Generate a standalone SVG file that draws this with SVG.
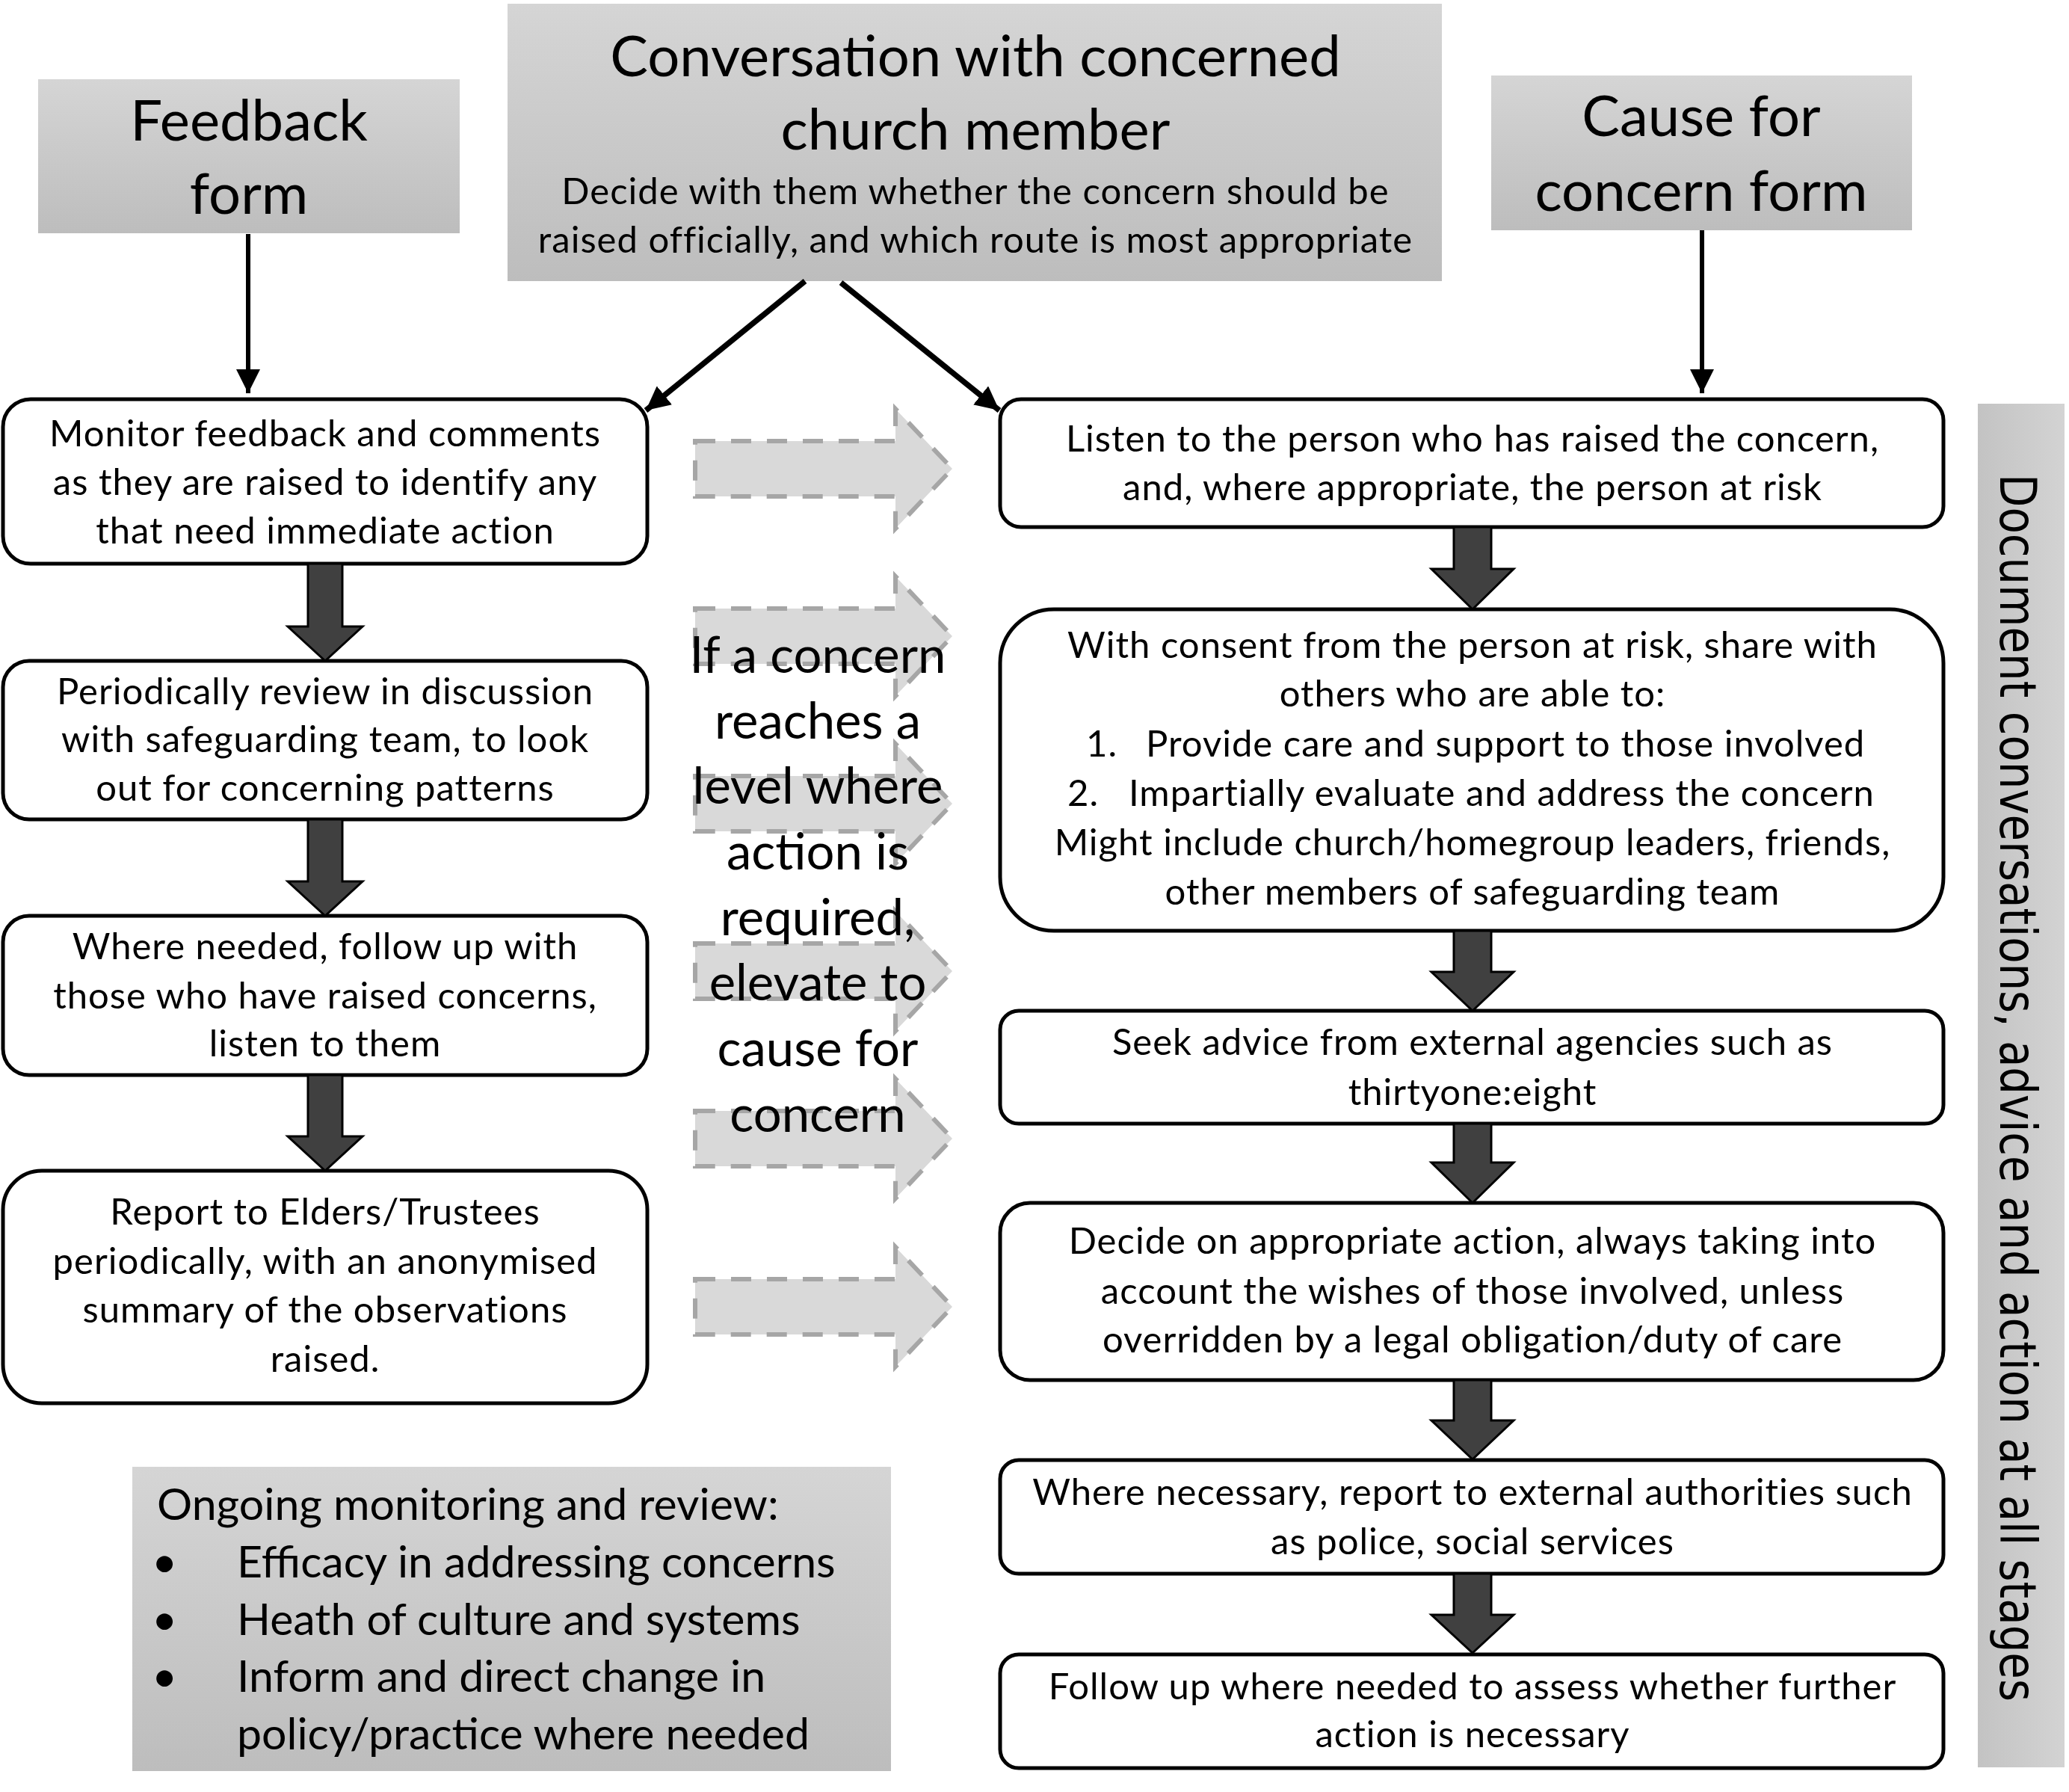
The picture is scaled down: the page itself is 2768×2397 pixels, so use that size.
<svg xmlns="http://www.w3.org/2000/svg" width="2768" height="2397" viewBox="0 0 2768 2397">
<style>
.t{font-family:Lato,"Liberation Sans",sans-serif;fill:#000;}
.title{font-size:76px;text-anchor:middle;}
.body{font-size:49px;letter-spacing:1px;text-anchor:middle;}
.mid{font-size:67px;text-anchor:middle;}
.ong{font-size:59px;}
.box{fill:#fff;stroke:#000;stroke-width:5;}
.gray{fill:url(#gv);}
.dash{fill:#d9d9d9;stroke:#a6a6a6;stroke-width:6;stroke-dasharray:27 21;}
.blk{fill:#404040;stroke:#000;stroke-width:3;}
.ln{stroke:#000;fill:none;}
</style>
<defs>
<linearGradient id="gv" x1="0" y1="0" x2="0" y2="1"><stop offset="0" stop-color="#d5d5d5"/><stop offset="1" stop-color="#bdbdbd"/></linearGradient>
<linearGradient id="gh" x1="0" y1="0" x2="1" y2="0"><stop offset="0" stop-color="#c3c3c3"/><stop offset="1" stop-color="#d3d3d3"/></linearGradient>
<marker id="ah" viewBox="0 0 10 10" refX="10" refY="5" markerUnits="userSpaceOnUse" markerWidth="32" markerHeight="32" orient="auto"><path d="M0,0 L10,5 L0,10 Z" fill="#000"/></marker>
</defs>

<g id="feedback-form">
<rect class="gray" x="51" y="106" width="564" height="206"/>
<text class="t title"><tspan x="333" y="188">Feedback</tspan><tspan x="333" y="286">form</tspan></text>
</g>
<g id="conversation">
<rect class="gray" x="679" y="5" width="1250" height="371"/>
<text class="t title"><tspan x="1305" y="102">Conversation with concerned</tspan><tspan x="1305" y="200">church member</tspan></text>
<text class="t body"><tspan x="1305" y="273">Decide with them whether the concern should be</tspan><tspan x="1305" y="338">raised officially, and which route is most appropriate</tspan></text>
</g>
<g id="cause-form">
<rect class="gray" x="1995" y="101" width="563" height="207"/>
<text class="t title"><tspan x="2276" y="182">Cause for</tspan><tspan x="2276" y="282">concern form</tspan></text>
</g>

<g id="monitor">
<rect class="box" x="4" y="534" width="862" height="220" rx="37"/>
<text class="t body"><tspan x="435" y="597">Monitor feedback and comments</tspan><tspan x="435" y="662">as they are raised to identify any</tspan><tspan x="435" y="727">that need immediate action</tspan></text>
</g>
<g id="review">
<rect class="box" x="4" y="884" width="862" height="212" rx="35"/>
<text class="t body"><tspan x="435" y="942">Periodically review in discussion</tspan><tspan x="435" y="1006">with safeguarding team, to look</tspan><tspan x="435" y="1071">out for concerning patterns</tspan></text>
</g>
<g id="follow-left">
<rect class="box" x="4" y="1225" width="862" height="213" rx="35"/>
<text class="t body"><tspan x="435" y="1283">Where needed, follow up with</tspan><tspan x="435" y="1349">those who have raised concerns,</tspan><tspan x="435" y="1413">listen to them</tspan></text>
</g>
<g id="report">
<rect class="box" x="4" y="1566" width="862" height="311" rx="52"/>
<text class="t body"><tspan x="435" y="1638">Report to Elders/Trustees</tspan><tspan x="435" y="1704">periodically, with an anonymised</tspan><tspan x="435" y="1769">summary of the observations</tspan><tspan x="435" y="1835">raised.</tspan></text>
</g>

<g id="ongoing">
<rect class="gray" x="177" y="1962" width="1015" height="407"/>
<text class="t ong"><tspan x="210" y="2033">Ongoing monitoring and review:</tspan></text>
<text class="t ong"><tspan x="203" y="2110">•</tspan><tspan x="317" y="2110">Efficacy in addressing concerns</tspan><tspan x="203" y="2187">•</tspan><tspan x="317" y="2187">Heath of culture and systems</tspan><tspan x="203" y="2263">•</tspan><tspan x="317" y="2263">Inform and direct change in</tspan><tspan x="317" y="2340">policy/practice where needed</tspan></text>
</g>

<g id="listen">
<rect class="box" x="1338" y="534" width="1262" height="171" rx="28"/>
<text class="t body"><tspan x="1970" y="604">Listen to the person who has raised the concern,</tspan><tspan x="1970" y="669">and, where appropriate, the person at risk</tspan></text>
</g>
<g id="share">
<rect class="box" x="1338" y="815" width="1262" height="430" rx="72"/>
<text class="t body"><tspan x="1970" y="880">With consent from the person at risk, share with</tspan><tspan x="1970" y="945">others who are able to:</tspan><tspan x="1970" y="1144">Might include church/homegroup leaders, friends,</tspan><tspan x="1970" y="1210">other members of safeguarding team</tspan></text>
<text class="t body" style="text-anchor:start"><tspan x="1453" y="1012">1.</tspan><tspan x="1533" y="1012">Provide care and support to those involved</tspan><tspan x="1428" y="1078">2.</tspan><tspan x="1510" y="1078">Impartially evaluate and address the concern</tspan></text>
</g>
<g id="seek">
<rect class="box" x="1338" y="1352" width="1262" height="151" rx="25"/>
<text class="t body"><tspan x="1970" y="1411">Seek advice from external agencies such as</tspan><tspan x="1970" y="1478">thirtyone:eight</tspan></text>
</g>
<g id="decide">
<rect class="box" x="1338" y="1609" width="1262" height="237" rx="40"/>
<text class="t body"><tspan x="1970" y="1677">Decide on appropriate action, always taking into</tspan><tspan x="1970" y="1744">account the wishes of those involved, unless</tspan><tspan x="1970" y="1809">overridden by a legal obligation/duty of care</tspan></text>
</g>
<g id="report-external">
<rect class="box" x="1338" y="1953" width="1262" height="152" rx="25"/>
<text class="t body"><tspan x="1970" y="2013">Where necessary, report to external authorities such</tspan><tspan x="1970" y="2079">as police, social services</tspan></text>
</g>
<g id="follow-right">
<rect class="box" x="1338" y="2213" width="1262" height="152" rx="25"/>
<text class="t body"><tspan x="1970" y="2273">Follow up where needed to assess whether further</tspan><tspan x="1970" y="2337">action is necessary</tspan></text>
</g>

<g id="document-bar">
<rect x="2646" y="540" width="116" height="1824" fill="url(#gh)"/>
<text x="2676" y="1455" transform="rotate(90 2676 1455)" style="font-family:'DejaVu Sans',sans-serif;font-size:68px;text-anchor:middle" textLength="1642" lengthAdjust="spacingAndGlyphs">Document conversations, advice and action at all stages</text>
</g>

<g id="connectors">
<line class="ln" x1="332" y1="313" x2="332" y2="526" stroke-width="6" marker-end="url(#ah)"/>
<line class="ln" x1="2277" y1="308" x2="2277" y2="526" stroke-width="6" marker-end="url(#ah)"/>
<line class="ln" x1="1077" y1="376" x2="864" y2="549" stroke-width="7.5" marker-end="url(#ah)"/>
<line class="ln" x1="1125" y1="378" x2="1337" y2="549" stroke-width="7.5" marker-end="url(#ah)"/>
<path class="blk" d="M412,754 H458 V838 H485 L435,884 L385,838 H412 Z"/>
<path class="blk" d="M412,1096 H458 V1179 H485 L435,1225 L385,1179 H412 Z"/>
<path class="blk" d="M412,1438 H458 V1520 H485 L435,1566 L385,1520 H412 Z"/>
<path class="blk" d="M1945,705 H1995 V761 H2025 L1970,815 L1915,761 H1945 Z"/>
<path class="blk" d="M1945,1245 H1995 V1300 H2025 L1970,1352 L1915,1300 H1945 Z"/>
<path class="blk" d="M1945,1503 H1995 V1555 H2025 L1970,1609 L1915,1555 H1945 Z"/>
<path class="blk" d="M1945,1846 H1995 V1900 H2025 L1970,1952 L1915,1900 H1945 Z"/>
<path class="blk" d="M1945,2105 H1995 V2160 H2025 L1970,2211 L1915,2160 H1945 Z"/>
<path class="dash" d="M930,590 H1198 V547 L1274,627 L1198,707 V664 H930 Z"/>
<path class="dash" d="M930,814 H1198 V771 L1274,851 L1198,931 V888 H930 Z"/>
<path class="dash" d="M930,1038 H1198 V995 L1274,1075 L1198,1155 V1112 H930 Z"/>
<path class="dash" d="M930,1262 H1198 V1219 L1274,1299 L1198,1379 V1336 H930 Z"/>
<path class="dash" d="M930,1486 H1198 V1443 L1274,1523 L1198,1603 V1560 H930 Z"/>
<path class="dash" d="M930,1711 H1198 V1668 L1274,1748 L1198,1828 V1785 H930 Z"/>
</g>

<g id="elevate-note">
<text class="t mid"><tspan x="1094" y="900">If a concern</tspan><tspan x="1094" y="988">reaches a</tspan><tspan x="1094" y="1075">level where</tspan><tspan x="1094" y="1163">action is</tspan><tspan x="1094" y="1251">required,</tspan><tspan x="1094" y="1338">elevate to</tspan><tspan x="1094" y="1426">cause for</tspan><tspan x="1094" y="1514">concern</tspan></text>
</g>
</svg>
